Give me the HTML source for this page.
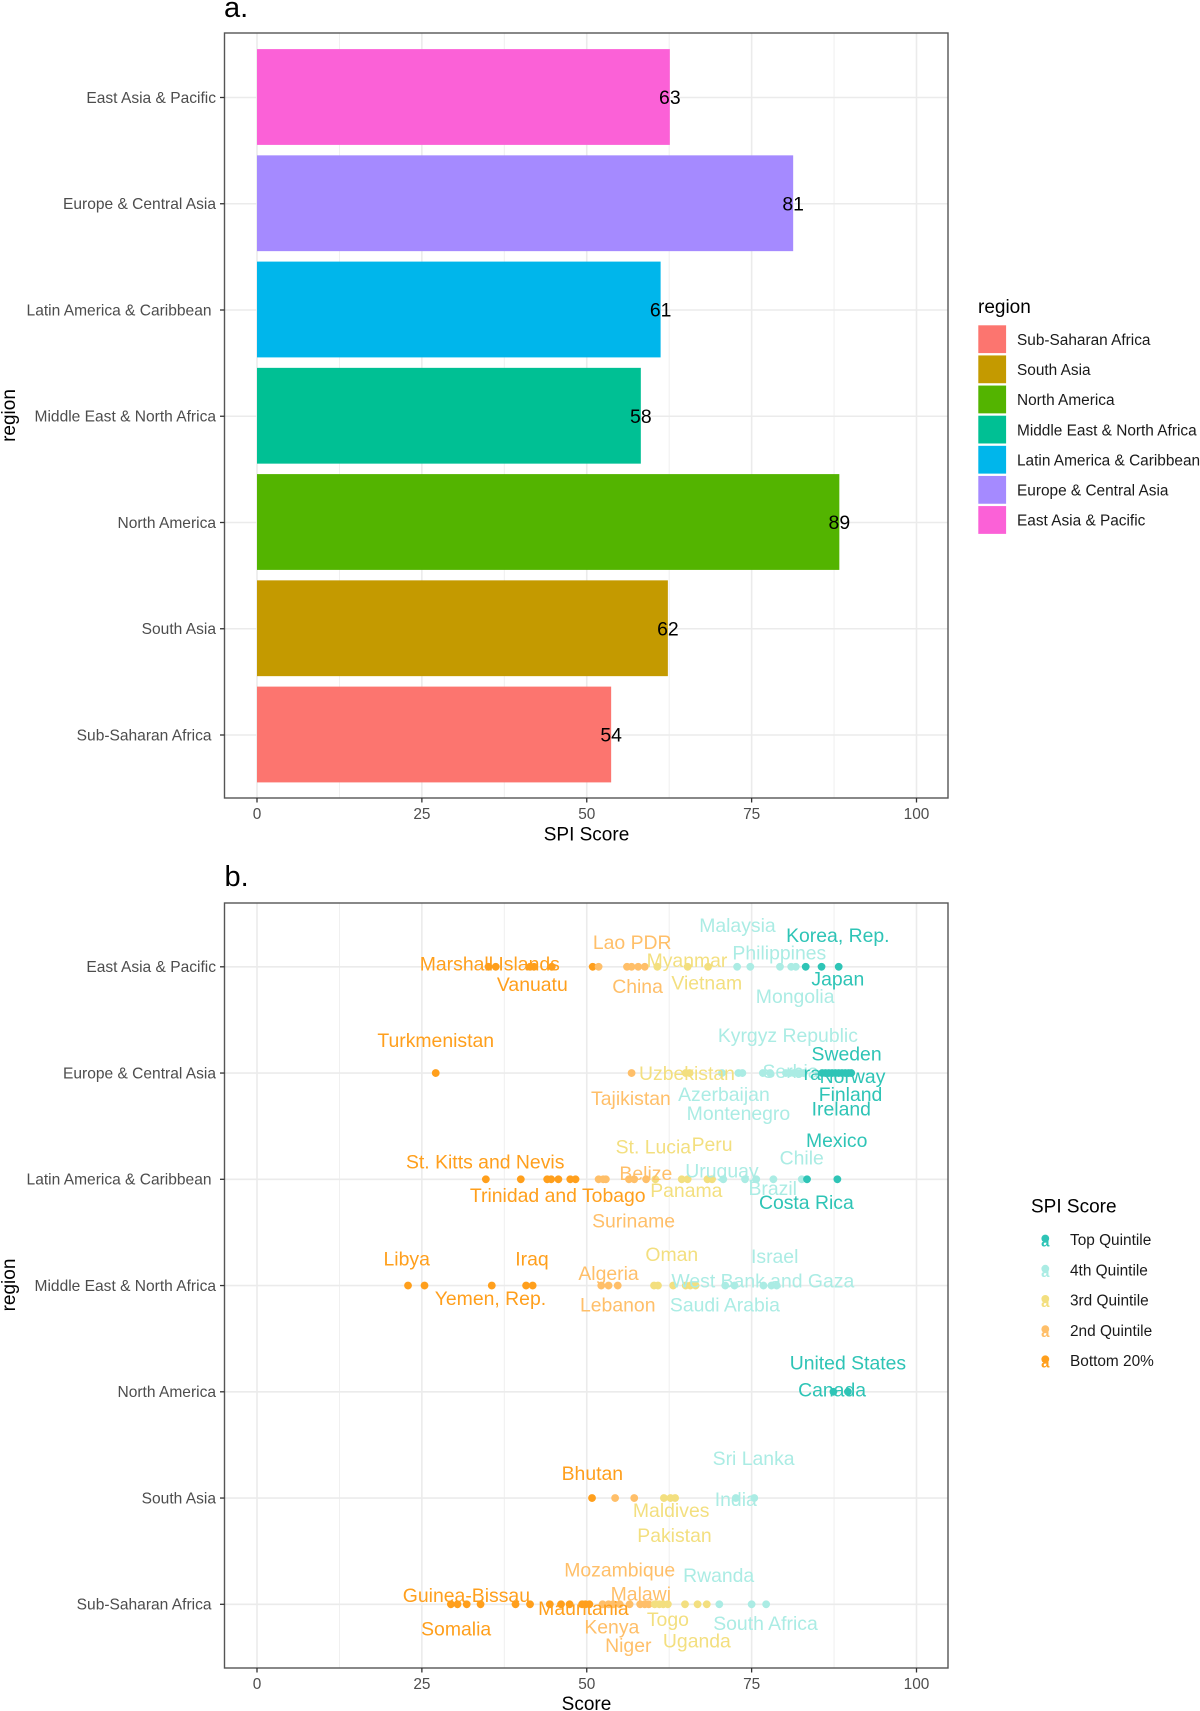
<!DOCTYPE html>
<html lang="en">
<head>
<meta charset="utf-8">
<title>SPI Score by region</title>
<style>
html,body{margin:0;padding:0;background:#fff;}
svg{display:block;font-family:"Liberation Sans",Arial,sans-serif;}
</style>
</head>
<body>
<svg id="chart" xmlns="http://www.w3.org/2000/svg" width="1200" height="1711" viewBox="0 0 1200 1711">
  <rect x="0" y="0" width="1200" height="1711" fill="#ffffff"/>
  <text x="224" y="17" font-size="29" fill="#000">a.</text>
  <text x="224.5" y="886" font-size="29" fill="#000">b.</text>
  <text x="586.5" y="840.5" font-size="19" text-anchor="middle" fill="#000">SPI Score</text>
  <text x="586.5" y="1710" font-size="19" text-anchor="middle" fill="#000">Score</text>
  <text transform="translate(15,415.5) rotate(-90)" font-size="19" text-anchor="middle" fill="#000">region</text>
  <text transform="translate(15,1285) rotate(-90)" font-size="19" text-anchor="middle" fill="#000">region</text>
  <text x="978" y="313" font-size="19" fill="#000">region</text>
  <text x="1031" y="1212.5" font-size="19" fill="#000">SPI Score</text>
  <g id="layer-a"></g>
  <g id="layer-b"></g>
  <g id="layer-legend"></g>
</svg>
<script>
// ---- Data ----
const regionNames = ['Sub-Saharan Africa','South Asia','North America','Middle East & North Africa','Latin America & Caribbean','Europe & Central Asia','East Asia & Pacific'];
const regionColors = ['#FC756F','#C49A00','#53B400','#00C094','#00B6EB','#A58AFF','#FB61D7'];
const barValues = [53.7,62.3,88.3,58.2,61.2,81.3,62.6];
const barPrinted = ['54','62','89','58','61','81','63'];
const xTicks = [0,25,50,75,100];
const xMinorTicks = [12.5,37.5,62.5,87.5];

const scoresSSA = [29.4,30.4,31.8,33.9,39.2,41.4,44.4,46.1,47.4,49.3,49.8,50.4,52.4,53.3,54,55,56.5,58.1,58.8,59.4,60.3,61,61.6,62.3,64.9,66.8,68.2,70.1,75,77.2];
const scoresSAS = [50.8,54.3,57.2,61.7,62.7,63.4,72.6,75.4];
const scoresNAM = [87.4,89.6];
const scoresMENA = [22.9,25.4,35.6,40.8,41.8,52.2,53.3,54.7,60.2,60.8,63.1,65,65.7,66.5,71,72.4,76.8,78,78.8];
const scoresLAC = [34.7,40,44,44.6,45.7,47.5,48.3,51.8,52.5,52.9,56.4,57.2,59,60.4,64.4,65.3,68.3,69,70.7,74,75.7,78.3,82.6,83.4,88];
const scoresECA = [27.1,56.8,65,65.6,70.5,73,73.6,76.7,77.8,80.2,80.8,81.4,82,82.5,82.9,85.7,86.2,86.7,87.2,87.7,88.2,88.7,89.2,89.7,90.1];
const scoresEAP = [35.1,36.2,41.4,42,44.7,50.9,51.8,56.1,56.8,57.8,58.8,60.7,65.3,68.4,72.8,74.8,79.3,81,81.7,83.2,85.6,88.2];
const regionScores = [scoresSSA,scoresSAS,scoresNAM,scoresMENA,scoresLAC,scoresECA,scoresEAP];

const quintileNames = ['Bottom 20%','2nd Quintile','3rd Quintile','4th Quintile','Top Quintile'];
const quintileColors = ['#FF9F1C','#FFBF69','#F3DF7F','#ABECE4','#2EC4B6'];
const quintileBreaks = [51.3,60,69.5,83];

// name, region index, anchor score, quintile
const labelNames = [
 ['Malaysia',6,72.85,3],['Korea, Rep.',6,88.07,4],['Lao PDR',6,56.89,1],['Philippines',6,79.2,3],['Myanmar',6,65.2,2],['Marshall Islands',6,35.3,0],['Japan',6,88.07,4],['Vanuatu',6,41.75,0],['China',6,57.7,1],['Vietnam',6,68.2,2],['Mongolia',6,81.6,3],
 ['Turkmenistan',5,27.1,0],['Kyrgyz Republic',5,80.5,3],['Sweden',5,89.4,4],['Uzbekistan',5,65.2,2],['Serbia',5,80.9,3],['ra',5,84.2,4],['Norway',5,90.3,4],['Tajikistan',5,56.7,1],['Azerbaijan',5,70.8,3],['Finland',5,90,4],['Montenegro',5,73,3],['Ireland',5,88.6,4],
 ['Mexico',4,87.9,4],['St. Lucia',4,60.1,2],['Peru',4,69,2],['Chile',4,82.6,3],['St. Kitts and Nevis',4,34.6,0],['Belize',4,58.96,1],['Uruguay',4,70.5,3],['Panama',4,65.1,2],['Brazil',4,78.2,3],['Trinidad and Tobago',4,45.6,0],['Costa Rica',4,83.3,4],['Suriname',4,57.1,1],
 ['Libya',3,22.7,0],['Iraq',3,41.7,0],['Oman',3,62.9,2],['Israel',3,78.5,3],['Algeria',3,53.3,1],['West Bank and Gaza',3,76.7,3],['Yemen, Rep.',3,35.4,0],['Lebanon',3,54.7,1],['Saudi Arabia',3,70.95,3],
 ['United States',2,89.6,4],['Canada',2,87.2,4],
 ['Sri Lanka',1,75.3,3],['Bhutan',1,50.85,0],['India',1,72.6,3],['Maldives',1,62.8,2],['Pakistan',1,63.3,2],
 ['Mozambique',0,55,1],['Rwanda',0,70,3],['Malawi',0,58.2,1],['Guinea-Bissau',0,31.75,0],['Mauritania',0,49.5,0],['Togo',0,62.3,2],['South Africa',0,77.1,3],['Kenya',0,53.8,1],['Somalia',0,30.2,0],['Uganda',0,66.7,2],['Niger',0,56.3,1]
];
// vertical repel nudges (px), same order as labelNames
const labelNudges = [-41.5,-31.6,-24.5,-14,-6.5,-3.3,12,17.5,19.6,15.8,29.5,
 -32.7,-38,-19.5,0,-2,0,3.3,25,21,21.3,40,35.8,
 -39.3,-32.7,-35,-21.8,-17.5,-6,-8.7,11,8.7,15.8,23,41.5,
 -26.7,-26.7,-31.6,-29.5,-12.5,-5,12.5,19,19,
 -29,-2,
 -40,-25,1,12,37,
 -34.4,-29,-10.4,-9.3,3.8,14.7,19,22.4,24.5,36.5,41];

// ---- Geometry and scales ----
const NS = 'http://www.w3.org/2000/svg';
const panelLeft = 224.5, panelRight = 948;
const panelA = {top: 33, bottom: 798, row0: 735, layer: document.getElementById('layer-a')};
const panelB = {top: 903, bottom: 1668, row0: 1604.3, layer: document.getElementById('layer-b')};
const rowStep = 106.25;
const narrowEdgeRows = ['Sub-Saharan Africa','Latin America & Caribbean'];
function xScale(v){ return 257 + v * 6.595; }
function rowY(panel, i){ return panel.row0 - i * rowStep; }
function quintileOf(v){
  let q = 0;
  quintileBreaks.forEach(function(b){ if (v >= b) q++; });
  return q;
}
function make(parent, tag, attrs, txt){
  const el = document.createElementNS(NS, tag);
  Object.keys(attrs).forEach(function(k){ el.setAttribute(k, attrs[k]); });
  if (txt !== undefined) el.textContent = txt;
  parent.appendChild(el);
  return el;
}
function slug(s){ return s.toLowerCase().replace(/[^a-z0-9]+/g, '-').replace(/^-|-$/g, ''); }

function drawFrame(panel, prefix){
  const g = panel.layer;
  xMinorTicks.forEach(function(t){
    const el = make(g, 'line', {x1:xScale(t), x2:xScale(t), y1:panel.top, y2:panel.bottom, stroke:'#eeeeee', 'stroke-width':0.9});
    
    
  });
  xTicks.forEach(function(t){
    const el = make(g, 'line', {x1:xScale(t), x2:xScale(t), y1:panel.top, y2:panel.bottom, stroke:'#ebebeb', 'stroke-width':1.6});
    
    
  });
  regionNames.forEach(function(r, i){
    const el = make(g, 'line', {x1:panelLeft, x2:panelRight, y1:rowY(panel,i), y2:rowY(panel,i), stroke:'#ebebeb', 'stroke-width':1.6});
    
    
  });
}
function drawAxes(panel, prefix){
  const g = panel.layer;
  const border = make(g, 'rect', {x:panelLeft, y:panel.top, width:panelRight-panelLeft, height:panel.bottom-panel.top, fill:'none', stroke:'#555555', 'stroke-width':1.4});
  
  
  xTicks.forEach(function(t){
    const tick = make(g, 'line', {x1:xScale(t), x2:xScale(t), y1:panel.bottom, y2:panel.bottom+4.5, stroke:'#333333', 'stroke-width':1.3});
    
    
    const lab = make(g, 'text', {x:xScale(t), y:panel.bottom+21, 'font-size':15.4, 'text-anchor':'middle', fill:'#4d4d4d'}, String(t));
    
    
  });
  regionNames.forEach(function(r, i){
    const y = rowY(panel, i);
    const tick = make(g, 'line', {x1:panelLeft-4.5, x2:panelLeft, y1:y, y2:y, stroke:'#333333', 'stroke-width':1.3});
    
    
    const edge = narrowEdgeRows.indexOf(r) >= 0 ? 211.5 : 216;
    const lab = make(g, 'text', {x:edge, y:y+5.4, 'font-size':15.55, 'text-anchor':'end', fill:'#4d4d4d'}, r);
    
    
  });
}

// ---- Panel a: bars ----
drawFrame(panelA, 'panel-a');
barValues.forEach(function(v, i){
  const y = rowY(panelA, i);
  const bar = make(panelA.layer, 'rect', {x:xScale(0), y:y-48.4, width:xScale(v)-xScale(0), height:95.8, fill:regionColors[i]});
  
  
});
barValues.forEach(function(v, i){
  const y = rowY(panelA, i);
  const lab = make(panelA.layer, 'text', {x:xScale(v), y:y+6.7, 'font-size':19.4, 'text-anchor':'middle', fill:'#000'}, barPrinted[i]);
  
  
});
drawAxes(panelA, 'panel-a');

// ---- Panel b: dots ----
drawFrame(panelB, 'panel-b');
regionScores.forEach(function(scores, i){
  scores.forEach(function(v){
    const dot = make(panelB.layer, 'circle', {cx:xScale(v), cy:rowY(panelB,i), r:3.9, fill:quintileColors[quintileOf(v)]});
    
    
  });
});
labelNames.forEach(function(l, i){
  const y = rowY(panelB, l[1]) + labelNudges[i];
  const t = make(panelB.layer, 'text', {x:xScale(l[2]), y:y+6.8, 'font-size':19.4, 'text-anchor':'middle', fill:quintileColors[l[3]]}, l[0]);
  
  
});
drawAxes(panelB, 'panel-b');

// ---- Legends ----
const legendLayer = document.getElementById('layer-legend');
regionNames.forEach(function(r, i){
  const y = 325.3 + i * 30.13;
  const sw = make(legendLayer, 'rect', {x:978.3, y:y, width:27.8, height:27.8, fill:regionColors[i]});
  
  
  const t = make(legendLayer, 'text', {x:1017, y:y+19.6, 'font-size':15.4, fill:'#1a1a1a'}, r);
  
  
});
quintileNames.slice().reverse().forEach(function(q, i){
  const color = quintileColors[4 - i];
  const y = 1240 + i * 30.2;
  const dot = make(legendLayer, 'circle', {cx:1045.3, cy:y-1.5, r:3.9, fill:color});
  
  
  const a = make(legendLayer, 'text', {x:1045.3, y:y+6.6, 'font-size':15, 'font-weight':'bold', 'text-anchor':'middle', fill:color}, 'a');
  
  
  const t = make(legendLayer, 'text', {x:1070, y:y+5.2, 'font-size':15.4, fill:'#1a1a1a'}, q);
  
  
});
</script>
</body>
</html>
